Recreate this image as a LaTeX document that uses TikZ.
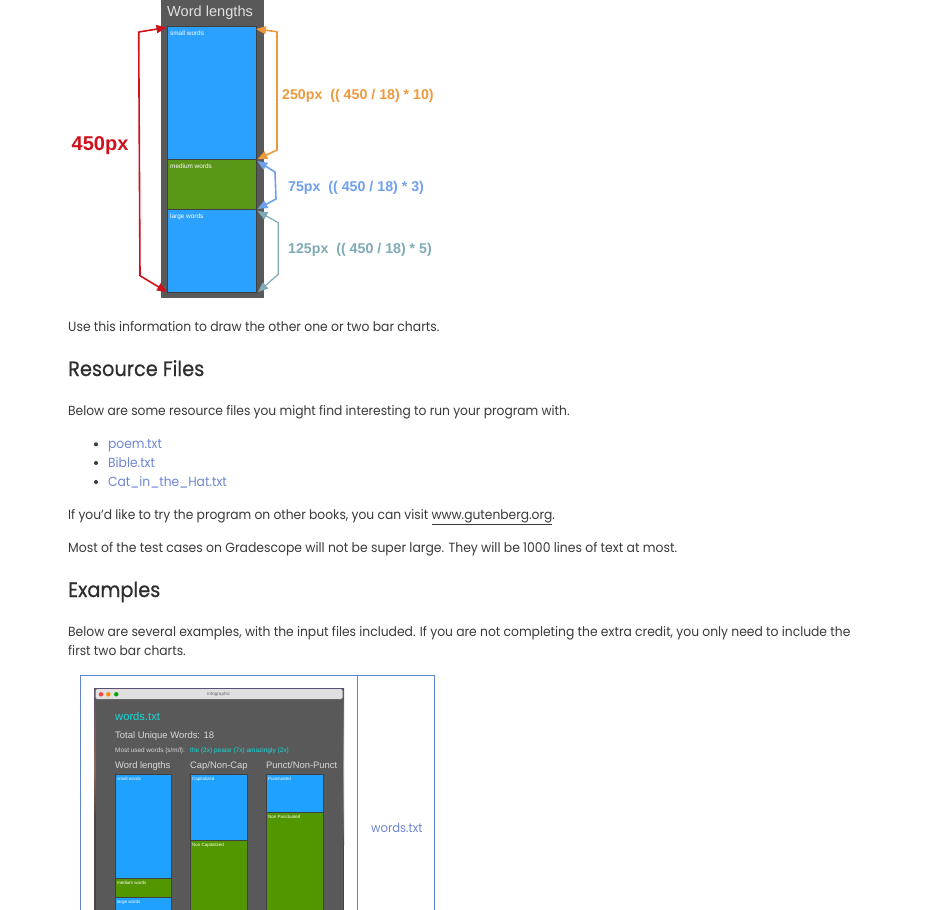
\documentclass[tikz,border=0pt]{standalone}
\usepackage{fontspec}
\setmainfont[FakeStretch=0.93]{Poppins}
\newfontfamily\hd[FakeStretch=0.93,FakeBold=0.6]{Poppins}
\newfontfamily\hv{Liberation Sans}
\usetikzlibrary{arrows.meta}
\definecolor{ink}{HTML}{3A3A3A}
\definecolor{head}{HTML}{2E2E2E}
\definecolor{linkc}{HTML}{6F86D6}
\definecolor{tbl}{HTML}{5F84D2}
\definecolor{panel}{HTML}{595959}
\definecolor{bblue}{HTML}{2BA1FF}
\definecolor{bgreen}{HTML}{5A9618}
\definecolor{ibblue}{HTML}{1FA1FF}
\definecolor{igreen}{HTML}{529700}
\definecolor{redc}{HTML}{D0101B}
\definecolor{orangec}{HTML}{EE9A3C}
\definecolor{bluec}{HTML}{6FA0EE}
\definecolor{tealc}{HTML}{7FAAB6}
\definecolor{cyanc}{HTML}{14DCDC}
\definecolor{wallA}{HTML}{5A5070}
\definecolor{wallB}{HTML}{8FA0B0}
\definecolor{wallC}{HTML}{A0704A}
\definecolor{wallD}{HTML}{4A4540}
\tikzset{
 x=1pt,y=-1pt,
 body/.style={anchor=base west,inner sep=0pt,text=ink,font=\fontsize{13.2}{15}\selectfont},
 linktxt/.style={body,text=linkc},
 heading/.style={anchor=base west,inner sep=0pt,text=head,font=\hd\fontsize{20.8}{24}\selectfont},
 bulletdot/.style={circle,fill=ink,inner sep=0pt,minimum size=4pt},
 lbl/.style={anchor=base west,inner sep=0pt,font=\hv\bfseries\fontsize{14.2}{16}\selectfont},
 dim/.style={line width=1.6pt,{Triangle[length=10pt,width=8pt]}-{Triangle[length=10pt,width=8pt]},line join=round},
 tiny/.style={anchor=base west,inner sep=0pt,text=white,font=\hv\fontsize{6.4}{7}\selectfont},
 itiny/.style={anchor=base west,inner sep=0pt,text=white,font=\hv\fontsize{4.5}{5}\selectfont},
 ihead/.style={anchor=base west,inner sep=0pt,text=white!85!black,font=\hv\fontsize{9.4}{11}\selectfont},
 barline/.style={draw=black!75,line width=.6pt},
}
\begin{document}
\begin{tikzpicture}
\useasboundingbox (0,0) rectangle (951,910);
\fill[white] (0,0) rectangle (951,910);
% top figure
\fill[panel] (161,0) rectangle (263.5,297.7);
\node[anchor=base west,inner sep=0pt,text=white!88!black,font=\hv\fontsize{14.6}{16}\selectfont] (wl) at (167,16.5) {Word lengths};
\filldraw[fill=bblue,barline] (167.3,26.7) rectangle (256,159.3);
\filldraw[fill=bgreen,barline] (167.3,159.3) rectangle (256,209.3);
\filldraw[fill=bblue,barline] (167.3,209.3) rectangle (256,292.3);
\node[tiny] (sw) at (170,35.5) {small words};
\node[tiny] (mw) at (170,168.5) {medium words};
\node[tiny] (lw) at (170,218.5) {large words};
\coordinate (r1) at (166.5,27.5); \coordinate (r2) at (138.7,32); \coordinate (r3) at (140,275.7); \coordinate (r4) at (167,292);
\draw[dim,redc] (r1) -- (r2) -- (r3) -- (r4);
\coordinate (o1) at (256,29); \coordinate (o2) at (277,31.7); \coordinate (o3) at (277,150); \coordinate (o4) at (257.3,159.3);
\draw[dim,orangec] (o1) -- (o2) -- (o3) -- (o4);
\coordinate (b1) at (257.3,161); \coordinate (b2) at (275,172); \coordinate (b3) at (276,199); \coordinate (b4) at (257.5,209);
\draw[dim,bluec] (b1) -- (b2) -- (b3) -- (b4);
\coordinate (t1) at (257.5,211); \coordinate (t2) at (278.3,222.7); \coordinate (t3) at (278.3,274.3); \coordinate (t4) at (258,292);
\draw[dim,tealc,line width=1.2pt] (t1) -- (t2) -- (t3) -- (t4);
\node[anchor=base west,inner sep=0pt,text=redc,font=\hv\bfseries\fontsize{20}{24}\selectfont] (l450) at (71.5,150.5) {450px};
\node[lbl,text=orangec] (l250) at (282,99) {250px\ \ (( 450 / 18) * 10)};
\node[lbl,text=bluec] (l75) at (288,191) {75px\ \ (( 450 / 18) * 3)};
\node[lbl,text=tealc] (l125) at (288,253) {125px\ \ (( 450 / 18) * 5)};
% page text
\node[body,font=\fontsize{13.3}{15}\selectfont] (p1) at (68,331) {Use this information to draw the other one or two bar charts.};
\node[heading] (h1) at (68,376) {Resource Files};
\node[body] (p2) at (68,415) {Below are some resource files you might find interesting to run your program with.};
\node[bulletdot] (d1) at (96,444.3) {};
\node[bulletdot] (d2) at (96,463) {};
\node[bulletdot] (d3) at (96,482) {};
\node[linktxt] (a1) at (108,448) {poem.txt};
\node[linktxt] (a2) at (108,467) {Bible.txt};
\node[linktxt] (a3) at (108,486) {Cat\_in\_the\_Hat.txt};
\node[body] (p3) at (68,519) {If you'd like to try the program on other books, you can visit \underline{www.gutenberg.org}.};
\node[body,font=\fontsize{13.33}{15}\selectfont] (p4) at (68,552) {Most of the test cases on Gradescope will not be super large. They will be 1000 lines of text at most.};
\node[heading] (h2) at (68,597) {Examples};
\node[body,font=\fontsize{13.24}{15}\selectfont] (p5) at (68,636) {Below are several examples, with the input files included. If you are not completing the extra credit, you only need to include the};
\node[body] (p6) at (68,655) {first two bar charts.};
% table
\draw[tbl,line width=.8pt] (80.5,910) -- (80.5,675.7) -- (434.5,675.7) -- (434.5,910);
\draw[tbl,line width=.8pt] (357.5,675.7) -- (357.5,910);
\node[linktxt,font=\fontsize{12.4}{15}\selectfont] (a4) at (371,832) {words.txt};
% screenshot
\shade[top color=wallA,bottom color=wallB] (342,688) rectangle (344,770);
\shade[top color=wallB,bottom color=wallC] (342,770) rectangle (344,810);
\shade[top color=wallC,bottom color=wallD] (342,810) rectangle (344,845);
\fill[wallD] (342,845) rectangle (344,910);
\shade[top color=wallA,bottom color=wallC!70!wallA] (94,688) rectangle (96,770);
\shade[top color=wallC!70!wallA,bottom color=wallD] (94,770) rectangle (96,820);
\fill[wallD] (94,820) rectangle (96,910);
\fill[wallA] (94,688) rectangle (344,689);
\fill[panel] (95.5,689) rectangle (342.5,910);
\fill[black!12,rounded corners=1.5pt] (95.5,689) rectangle (342.5,699);
\fill[red!75!white] (101,694.3) circle (2.2);
\fill[orange!90!yellow] (108.3,694.3) circle (2.2);
\fill[green!65!black] (116.3,694.3) circle (2.2);
\node[anchor=center,inner sep=0pt,text=black!60,font=\hv\fontsize{4.6}{5}\selectfont] (ititle) at (218.7,694.3) {infographic};
\node[anchor=base west,inner sep=0pt,text=cyanc,font=\hv\fontsize{11.2}{13}\selectfont] (iw) at (115,720.5) {words.txt};
\node[ihead,font=\hv\fontsize{9.45}{11}\selectfont] (it) at (115,738) {Total Unique Words: 18};
\node[anchor=base west,inner sep=0pt,text=white!85!black,font=\hv\fontsize{6.4}{7}\selectfont] (im) at (115,752) {Most used words (s/m/l):};
\node[anchor=base west,inner sep=0pt,text=cyanc,font=\hv\fontsize{6.5}{7}\selectfont] (ic) at (190,752) {the (2x) peace (7x) amazingly (2x)};
\node[ihead] (i1) at (115,768.5) {Word lengths};
\node[ihead] (i2) at (190,768.5) {Cap/Non-Cap};
\node[ihead] (i3) at (266,768.5) {Punct/Non-Punct};
\filldraw[fill=ibblue,barline] (115,774.7) rectangle (171.5,878);
\filldraw[fill=igreen,barline] (115,878) rectangle (171.5,897.3);
\filldraw[fill=ibblue,barline] (115,897.3) rectangle (171.5,911);
\filldraw[fill=ibblue,barline] (190,774.7) rectangle (247,840.7);
\filldraw[fill=igreen,barline] (190,840.7) rectangle (247,911);
\filldraw[fill=ibblue,barline] (266,774.7) rectangle (323,812.3);
\filldraw[fill=igreen,barline] (266,812.3) rectangle (323,911);
\node[itiny] (s1) at (117,780) {small words};
\node[itiny] (s2) at (117,884) {medium words};
\node[itiny] (s3) at (117,903) {large words};
\node[itiny] (s4) at (192,780) {Capitalized};
\node[itiny] (s5) at (192,846.5) {Non Capitalized};
\node[itiny] (s6) at (268,780) {Punctuated};
\node[itiny] (s7) at (268,818) {Non Punctuated};
\end{tikzpicture}
\end{document}
